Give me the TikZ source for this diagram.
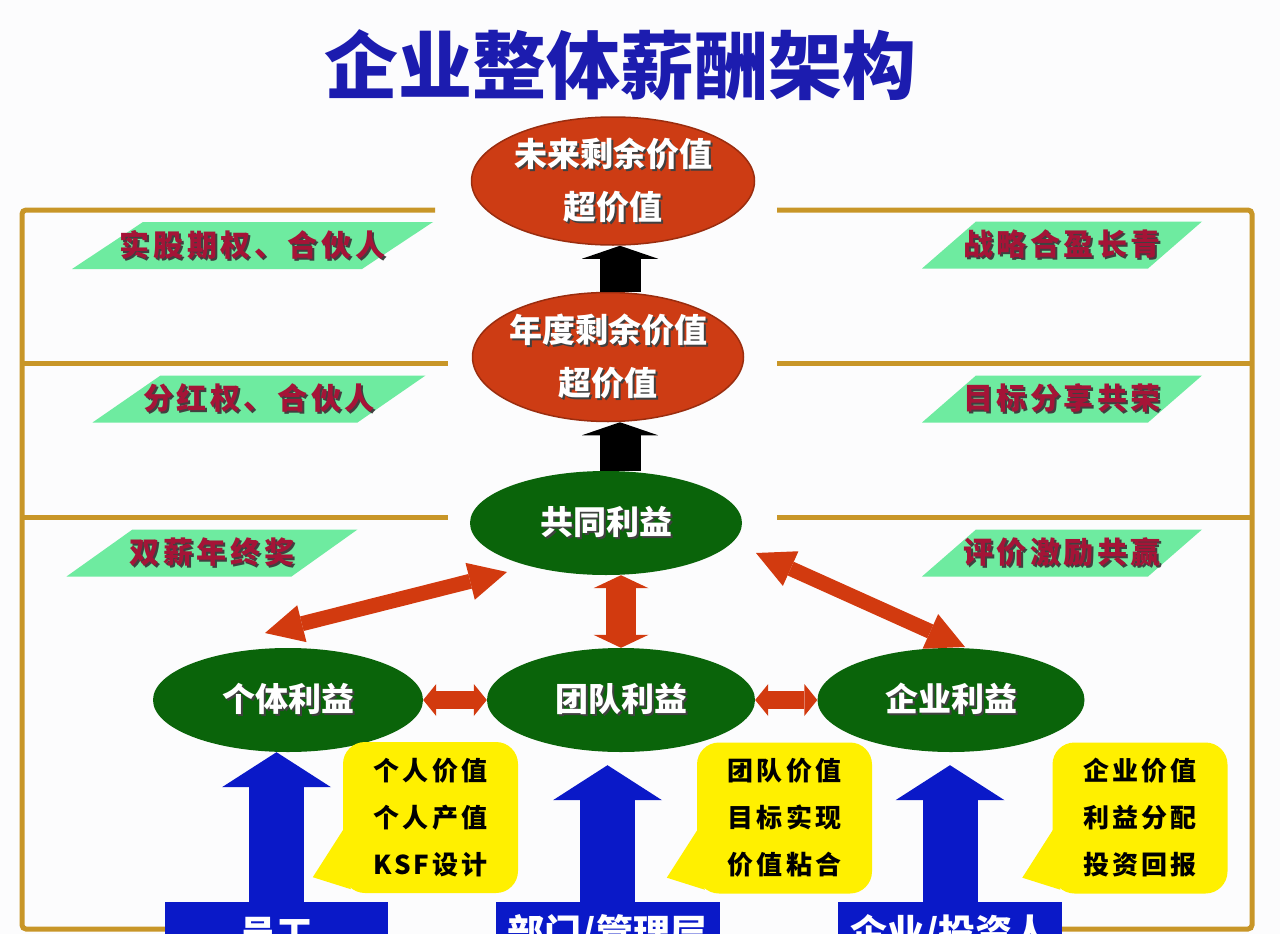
\documentclass[tikz,border=0pt]{standalone}
\usepackage{fontspec}
\setmainfont{Noto Sans CJK SC}
\newfontfamily\cjk{Noto Sans CJK SC}
\newfontfamily\cjkheavy{Noto Sans CJK SC Black}
\newfontfamily\cjkwide{Noto Sans CJK SC}[LetterSpace=12]
\usetikzlibrary{arrows.meta,positioning,shapes.geometric,calc}
\definecolor{bgwhite}{RGB}{252,252,253}
\definecolor{titleblue}{RGB}{28,28,175}
\definecolor{gold}{RGB}{200,150,40}
\definecolor{tagfill}{RGB}{110,235,160}
\definecolor{tagred}{RGB}{165,20,55}
\definecolor{ellred}{RGB}{205,60,20}
\definecolor{ellgreen}{RGB}{10,100,10}
\definecolor{arrred}{RGB}{210,58,15}
\definecolor{callyel}{RGB}{255,240,0}
\definecolor{boxblue}{RGB}{10,25,200}
\newcommand{\shd}[1]{\makebox[0pt][l]{\hspace*{2pt}\raisebox{-2pt}{\textcolor{black!75}{#1}}}#1}
\tikzset{
  frame/.style={draw=gold,line width=5pt,rounded corners=4pt},
  redell/.style={ellipse,draw=ellred!75!black,line width=1.5pt,fill=ellred,inner sep=0pt},
  grnell/.style={ellipse,fill=ellgreen,inner sep=0pt,minimum height=104pt},
  etext/.style={text=white,font=\cjk\bfseries\fontsize{33}{53}\selectfont,align=center},
  tagtext/.style={text=tagred,font=\cjkwide\bfseries\fontsize{30}{32}\selectfont,inner sep=0pt},
  callbox/.style={fill=callyel,rounded corners=22pt,minimum width=175pt,minimum height=151pt,align=center,font=\cjkwide\bfseries\fontsize{26}{47}\selectfont},
  bluebox/.style={fill=boxblue,text=white,minimum width=224pt,minimum height=64pt,anchor=north,font=\cjk\bfseries\fontsize{37}{40}\selectfont},
  dblarr/.style n args={3}{draw=arrred,line width=#1,arrows={Triangle[width=#2 0 0,length=#3 0 0,line width=0pt]-Triangle[width=#2 0 0,length=#3 0 0,line width=0pt]}},
  uparr/.style n args={4}{draw=#1,line width=#2,arrows={-Triangle[width=#3 0 0,length=#4 0 0,line width=0pt]}},
}
% green slanted tag: name, centre x, centre y, half width, half slant, text
\newcommand{\slanttag}[6]{%
  \fill[tagfill] (#2-#4-#5,#3+23.5) -- (#2-#4+#5,#3-23.5) -- (#2+#4+#5,#3-23.5) -- (#2+#4-#5,#3+23.5) -- cycle;
  \node[tagtext] (#1) at (#2,#3) {\shd{#6}};}

\begin{document}
\begin{tikzpicture}[x=1pt,y=-1pt]
\useasboundingbox (0,0) rectangle (1280,934);
\clip (0,0) rectangle (1280,934);
\fill[bgwhite] (0,0) rectangle (1280,934);

\node[font=\cjkheavy\fontsize{74}{80}\selectfont,text=titleblue] (title) at (620,65) {企业整体薪酬架构};

% frame
\draw[frame] (435,210) -| (22,929) -- (165,929);
\draw[frame] (1060,929) -| (1252,210) -- (777,210);
\draw[frame] (22,363) -- (448,363) (777,363) -- (1252,363);
\draw[frame] (22,517) -- (448,517) (777,517) -- (1252,517);

% tags
\slanttag{t1}{252.5}{245.5}{145}{35.5}{实股期权、合伙人}
\slanttag{t2}{259}{399}{132.5}{34}{分红权、合伙人}
\slanttag{t3}{212}{553}{112.5}{33}{双薪年终奖}
\slanttag{t4}{1062}{245}{113}{27}{战略合盈长青}
\slanttag{t5}{1062}{399}{113}{27}{目标分享共荣}
\slanttag{t6}{1062}{553}{113}{27}{评价激励共赢}

% value ellipses
\node[redell,minimum width=283pt,minimum height=128pt,label={[etext]center:{\shd{未来剩余价值}\\\shd{超价值}}}] (fut) at (613,181) {};
\node[redell,minimum width=271pt,minimum height=129pt,label={[etext]center:{\shd{年度剩余价值}\\\shd{超价值}}}] (ann) at (608,357) {};
\node[grnell,minimum width=272pt,label={[etext]center:\shd{共同利益}}] (com) at (606,523) {};
\node[grnell,minimum width=270pt,label={[etext]center:\shd{个体利益}}] (ind) at (288,700) {};
\node[grnell,minimum width=268pt,label={[etext]center:\shd{团队利益}}] (team) at (621,700) {};
\node[grnell,minimum width=267pt,label={[etext]center:\shd{企业利益}}] (ent) at (951,700) {};

\draw[uparr={black}{41pt}{76pt}{13pt}] ([xshift=12pt]ann.north) -- ([xshift=7pt]fut.south);
\draw[uparr={black}{41pt}{76pt}{13pt}] ([xshift=14pt]com.north) -- ([xshift=12pt]ann.south);

% red links
\coordinate (dl1) at (265,633);
\coordinate (dl2) at (507,572);
\coordinate (dr1) at (756,553);
\coordinate (dr2) at (965,647);
\draw[dblarr={30pt}{55pt}{13pt}] (com.south -| team.north) -- (team.north);
\draw[dblarr={18pt}{32pt}{13pt}] (ind.east) -- (team.west);
\draw[dblarr={18pt}{32pt}{13pt}] (team.east) -- (ent.west);
\draw[dblarr={15pt}{38pt}{38pt}] (dl1) -- (dl2);
\draw[dblarr={15pt}{38pt}{38pt}] (dr1) -- (dr2);

% bottom
\node[bluebox,minimum width=223pt] (emp) at (276.5,902) {员工};
\node[bluebox] (dept) at (607.5,902) {部门/管理层};
\node[bluebox] (inv) at (950,902) {企业/投资人};
\draw[uparr={boxblue}{55pt}{109pt}{35pt}] (emp.north) -- (emp.north |- ind.south);
\draw[uparr={boxblue}{55pt}{109pt}{35pt}] (dept.north) -- ($(dept.north |- team.south)+(0,13)$);
\draw[uparr={boxblue}{55pt}{109pt}{35pt}] (inv.north) -- ($(inv.north |- ent.south)+(0,13)$);

% callouts
\node[callbox] (cb1) at (430.5,817.5) {个人价值\\个人产值\\KSF设计};
\node[callbox] (cb2) at (784.5,818) {团队价值\\目标实现\\价值粘合};
\node[callbox] (cb3) at (1140,818) {企业价值\\利益分配\\投资回报};
\foreach \c in {cb1,cb2,cb3}
  \fill[callyel] ($(\c.south west)+(2,-66)$) -- ++(-32,50) -- ($(\c.south west)+(8,-4)$) -- cycle;
\end{tikzpicture}
\end{document}
